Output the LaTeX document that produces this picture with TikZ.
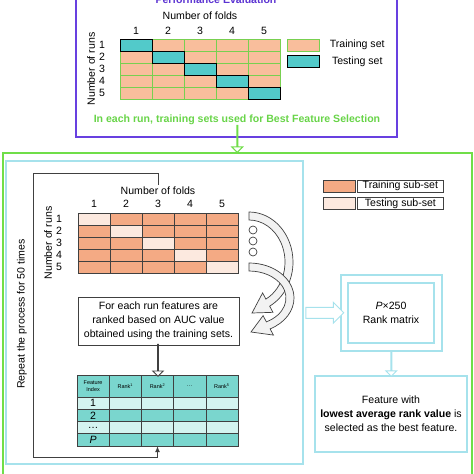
\documentclass[tikz,border=0pt]{standalone}
\usepackage{fontspec}
\setmainfont{Liberation Sans}
\usetikzlibrary{shapes.arrows, calc, arrows.meta, positioning}

\definecolor{evalpurple}{RGB}{104,64,224}
\definecolor{titlepurple}{RGB}{92,52,210}
\definecolor{framegreen}{RGB}{112,222,72}
\definecolor{notegreen}{RGB}{104,212,72}
\definecolor{gridgreen}{RGB}{120,208,80}
\definecolor{framecyan}{RGB}{166,226,236}
\definecolor{peach}{RGB}{249,190,156}
\definecolor{salmon}{RGB}{244,170,132}
\definecolor{palesalmon}{RGB}{252,233,223}
\definecolor{testteal}{RGB}{82,202,202}
\definecolor{tabteal}{RGB}{122,214,206}
\definecolor{tablight}{RGB}{212,244,240}
\definecolor{linegray}{RGB}{64,64,64}

\newcommand{\txtsize}{\fontsize{10.6}{14}\selectfont}
\newcommand{\tinysize}{\fontsize{5.5}{6.5}\selectfont}

\begin{document}
\begin{tikzpicture}
  [
    x=1bp, y=-1bp,
    every node/.style={inner sep=0pt, font=\txtsize},
    panel/.style={draw, rectangle},
    cell/.style={draw, rectangle, minimum width=32bp, minimum height=12bp},
    tabcell/.style={draw=linegray, rectangle, line width=0.6bp, minimum width=32.2bp, minimum height=12.25bp},
    swatch/.style={draw, rectangle, minimum width=32bp, minimum height=12bp},
    hollow/.style={draw, fill=white, shape=single arrow, single arrow head extend=5bp,
      inner xsep=0pt, inner ysep=5bp, minimum height=#1},
    runs/.style={rotate=90},
    curveband/.style={draw=linegray, fill=black!5, line width=0.7bp}
  ]
  \useasboundingbox (0,0) rectangle (474,474);

  \node[panel, draw=evalpurple, line width=1.6bp, minimum width=321bp, minimum height=150bp] (evalBox) at (236.5,62) {};
  \node[font=\txtsize\bfseries, text=titlepurple] (evalTitle) at (216,0) {Performance Evaluation};
  \node (foldsTop) at (200,16) {Number of folds};
  \node[runs] (runsTop) at (91,69) {Number of runs};
  \foreach \k in {1,...,5} {
    \node (topCol\k) at (104+32*\k,31) {\k};
    \node (topRow\k) at (102,33+12*\k) {\k};
  }
  \foreach \r in {1,...,5}
    \foreach \c in {1,...,5}
      \node[cell, draw=gridgreen, fill=peach] (top\r\c) at (104+32*\c,33+12*\r) {};
  \foreach \k in {1,...,5}
    \node[cell, draw=black, fill=testteal, line width=0.9bp] (topTest\k) at (top\k\k) {};
  \node[swatch, draw=gridgreen, fill=peach, right=7bp of top15] (trainKey) {};
  \node[swatch, draw=black, fill=testteal, line width=0.9bp, below=4bp of trainKey] (testKey) {};
  \node[right=10bp of trainKey] (trainText) {Training set};
  \node[right=12bp of testKey] (testText) {Testing set};
  \node[font=\txtsize\bfseries, text=notegreen] (bestNote) at (237,120) {In each run, training sets used for Best Feature Selection};

  \node[panel, draw=framegreen, line width=2bp, minimum width=469bp, minimum height=327bp] (selBox) at (237.5,316.5) {};
  \node[hollow=27bp, draw=framegreen, line width=1bp, shape border rotate=270, inner ysep=4.5bp] (evalArrow) at ($(bestNote.south)!.5!(selBox.north)$) {};
  \node[panel, draw=framecyan, line width=1.2bp, minimum width=297bp, minimum height=303bp] (leftFrame) at (154.5,312.5) {};
  \node[runs] (repeatNote) at (22,314) {Repeat the process for 50 times};

  \node (foldsMid) at (158,191) {Number of folds};
  \node[runs] (runsMid) at (48,243) {Number of runs};
  \foreach \k in {1,...,5} {
    \node (midCol\k) at (62+32*\k,204) {\k};
    \node (midRow\k) at (59,207+12*\k) {\k};
  }
  \foreach \r in {1,...,5}
    \foreach \c in {1,...,5} {
      \ifnum\r=\c \def\cellfill{palesalmon}\else\def\cellfill{salmon}\fi
      \node[cell, draw=linegray, fill=\cellfill, line width=0.7bp] (mid\r\c) at (62+32*\c,207+12*\r) {};
    }
  \node[swatch, draw=linegray, fill=salmon] (trainSub) at (339,186) {};
  \node[swatch, draw=linegray, fill=palesalmon, below=5bp of trainSub] (testSub) {};
  \node[panel, draw=linegray, minimum width=86bp, minimum height=12bp, right=2bp of trainSub] (trainSubText) {Training sub-set};
  \node[panel, draw=linegray, minimum width=86bp, minimum height=12bp, right=2bp of testSub] (testSubText) {Testing sub-set};

  \foreach \k in {1,2,3}
    \node[circle, draw=linegray, line width=0.7bp, minimum size=8bp] (dot\k) at (253,219+11*\k) {};
  \coordinate (bendA) at (249,262);
  \coordinate (bendB) at (249,298);
  \path[curveband] ($(bendA)+(-90:44 and 50)$) arc[start angle=-90, end angle=62, x radius=44, y radius=50]
    -- ($(bendA)+(62:51 and 57)$) -- (252,313) -- ($(bendA)+(62:29 and 35)$)
    -- ($(bendA)+(62:36 and 42)$) arc[start angle=62, end angle=-90, x radius=36, y radius=42] -- cycle;
  \path[curveband] ($(bendB)+(-90:45 and 35)$) arc[start angle=-90, end angle=62, x radius=45, y radius=35]
    -- ($(bendB)+(62:52 and 42)$) -- (251,332) -- ($(bendB)+(62:30 and 20)$)
    -- ($(bendB)+(62:37 and 27)$) arc[start angle=62, end angle=-90, x radius=37, y radius=27] -- cycle;

  \node[panel, draw=linegray, line width=0.8bp, minimum width=161bp, minimum height=48bp, align=center] (rankStep) at (158.5,321)
    {For each run features are\\ranked based on AUC value\\obtained using the training sets.};

  \foreach \c/\head in {1/{Feature\\Index},2/Rank\textsuperscript{1},3/Rank\textsuperscript{2},4/\dots,5/Rank\textsuperscript{5}}
    \node[tabcell, minimum height=22bp, fill=tabteal, font=\tinysize, align=center] (head\c) at (60.9+32.2*\c,386) {\head};
  \foreach \r/\idx/\tone in {1/1/tablight,2/2/tabteal,3/\dots/tablight,4/\textit{P}/tabteal} {
    \node[tabcell, fill=\tone] (idx\r) at (93.1,390.875+12.25*\r) {\idx};
    \foreach \c in {2,...,5}
      \node[tabcell, fill=\tone] (cell\r\c) at (60.9+32.2*\c,390.875+12.25*\r) {};
  }
  \node[minimum width=161bp, minimum height=71bp] (rankTable) at (157.5,410.5) {};
  \node[hollow=32bp, draw=linegray, line width=0.8bp, shape border rotate=270] (stepArrow) at ($(rankStep.south)!.5!(rankTable.north)$) {};

  \coordinate (loopTop) at (158,185);
  \coordinate (loopNW) at (33,173);
  \coordinate (loopSW) at (33,457);
  \draw[linegray, line width=0.9bp, -{Latex[length=6bp,width=5bp]}] (loopTop) |- (loopNW) -- (loopSW) -| (rankTable.south);

  \node[panel, draw=framecyan, line width=1.2bp, minimum width=101bp, minimum height=76bp] (matrixOuter) at (391.5,313) {};
  \node[panel, draw=framecyan, line width=1.2bp, minimum width=86bp, minimum height=60bp, align=center] (matrixBox) at (391,313)
    {\textit{P}×250\\Rank matrix};
  \node[panel, draw=framecyan, line width=1.2bp, minimum width=152bp, minimum height=76bp, align=center] (bestBox) at (391,414)
    {Feature with\\\textbf{lowest average rank value} is\\selected as the best feature.};
  \node[hollow=38bp, draw=framecyan, line width=1bp] (sideArrow) at ($(leftFrame.east)!.5!(matrixOuter.west)$) {};
  \node[hollow=25bp, draw=framecyan, line width=1bp, shape border rotate=270] (downArrow) at ($(matrixOuter.south)!.5!(bestBox.north)$) {};
\end{tikzpicture}
\end{document}
